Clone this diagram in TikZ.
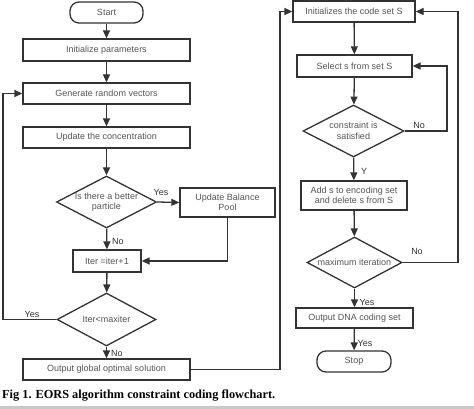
\documentclass[tikz,border=0pt]{standalone}
\usepackage{fontspec}
\setmainfont{Liberation Sans}
\newfontfamily\capfont{Liberation Serif}
\usetikzlibrary{shapes.geometric,arrows.meta}
\definecolor{lc}{HTML}{333333}
\definecolor{tc}{HTML}{555555}
\definecolor{barc}{HTML}{C8C8C8}
\begin{document}
\begin{tikzpicture}[x=1pt,y=-1pt,
  box/.style={draw=lc, line width=1.3pt, fill=white, text=tc, font=\fontsize{9}{10.5}\selectfont, inner sep=0pt, align=center},
  term/.style={box, rounded corners=9pt},
  dia/.style={draw=lc, line width=1.3pt, fill=white, diamond, inner sep=0pt},
  dtext/.style={text=tc, font=\fontsize{9}{10.5}\selectfont, inner sep=0pt, align=center},
  lab/.style={text=lc, font=\fontsize{9}{10.5}\selectfont, inner sep=0pt},
  arr/.style={draw=lc, line width=1.3pt, -{Triangle[length=8pt,width=7pt]}}
]
\useasboundingbox (0,0) rectangle (474,409);
% left column
\node[term, minimum width=73pt, minimum height=21pt] (start) at (106.5,12.5) {Start};
\node[box, minimum width=167pt, minimum height=22pt] (init) at (106.5,50) {Initialize parameters};
\node[box, minimum width=167pt, minimum height=21pt] (gen) at (106.5,93.5) {Generate random vectors};
\node[box, minimum width=167pt, minimum height=21pt] (upd) at (106.5,137.5) {Update the concentration};
\node[dia, minimum width=100pt, minimum height=52pt] (d1) at (106.5,202) {};
\node[dtext] (d1t) at (d1) {Is there a better\\particle};
\node[box, minimum width=95pt, minimum height=29pt] (bal) at (227.5,202.5) {Update Balance\\Pool};
\node[box, minimum width=68pt, minimum height=22pt] (iter) at (107,261) {Iter =iter+1};
\node[dia, minimum width=99pt, minimum height=53pt] (d2) at (106.5,319.5) {};
\node[dtext] (d2t) at (d2) {Iter<maxiter};
\node[box, minimum width=167pt, minimum height=21pt] (out) at (106.5,369.5) {Output global optimal solution};
% right column
\node[box, minimum width=122pt, minimum height=21pt] (ini) at (354,11.5) {Initializes the code set S};
\node[box, minimum width=115pt, minimum height=22pt] (sel) at (354.5,66) {Select s from set S};
\node[dia, minimum width=101pt, minimum height=52pt] (d3) at (353.5,131) {};
\node[dtext] (d3t) at (d3) {constraint is\\satisfied};
\node[box, minimum width=106pt, minimum height=29pt] (add) at (354,195.5) {Add s to encoding set\\and delete s from S};
\node[dia, minimum width=95pt, minimum height=51pt] (d4) at (354.5,262.5) {};
\node[dtext] (d4t) at (d4) {maximum iteration};
\node[box, minimum width=117pt, minimum height=20pt] (dna) at (354.5,318) {Output DNA coding set};
\node[term, minimum width=74pt, minimum height=21pt] (stop) at (354,361.5) {Stop};
% connectors
\draw[arr] (start) -- (init);
\draw[arr] (init) -- (gen);
\draw[arr] (gen) -- (upd);
\draw[arr] (upd) -- (d1);
\draw[arr] (d1) -- (iter);
\draw[arr] (d1.east) -- (bal.west);
\draw[arr] (bal.south) |- (iter.east);
\draw[arr] (iter) -- (d2);
\draw[arr] (d2) -- (out);
\coordinate (lp) at (3,319.5);
\draw[arr] (d2.west) -- (lp) |- (gen.west);
\coordinate (rp) at (280,369.5);
\draw[arr] (out.east) -- (rp) |- (ini.west);
\draw[arr] (ini) -- (sel);
\draw[arr] (sel) -- (d3);
\draw[arr] (d3) -- (add);
\draw[arr] (add) -- (d4);
\draw[arr] (d4) -- (dna);
\draw[arr] (dna) -- (stop);
\coordinate (np) at (447,131);
\draw[arr] (d3.east) -- (np) |- (sel.east);
\coordinate (mp) at (458,262.5);
\draw[arr] (d4.east) -- (mp) |- (ini.east);
% labels
\node[lab] (l1) at (161,192) {Yes};
\node[lab] (l2) at (118,241) {No};
\node[lab] (l3) at (32,314) {Yes};
\node[lab] (l4) at (117,353) {No};
\node[lab] (l5) at (419,125) {No};
\node[lab] (l6) at (364,171) {Y};
\node[lab] (l7) at (417,251) {No};
\node[lab] (l8) at (367,302) {Yes};
\node[lab] (l9) at (365,343) {Yes};
% caption
\node[anchor=base west, inner sep=0pt, font=\capfont\bfseries\fontsize{12.3}{14}\selectfont] (cap) at (2,398) {Fig 1. EORS algorithm constraint coding flowchart.};
\fill[barc] (0,405.5) rectangle (474,409);
\end{tikzpicture}
\end{document}
